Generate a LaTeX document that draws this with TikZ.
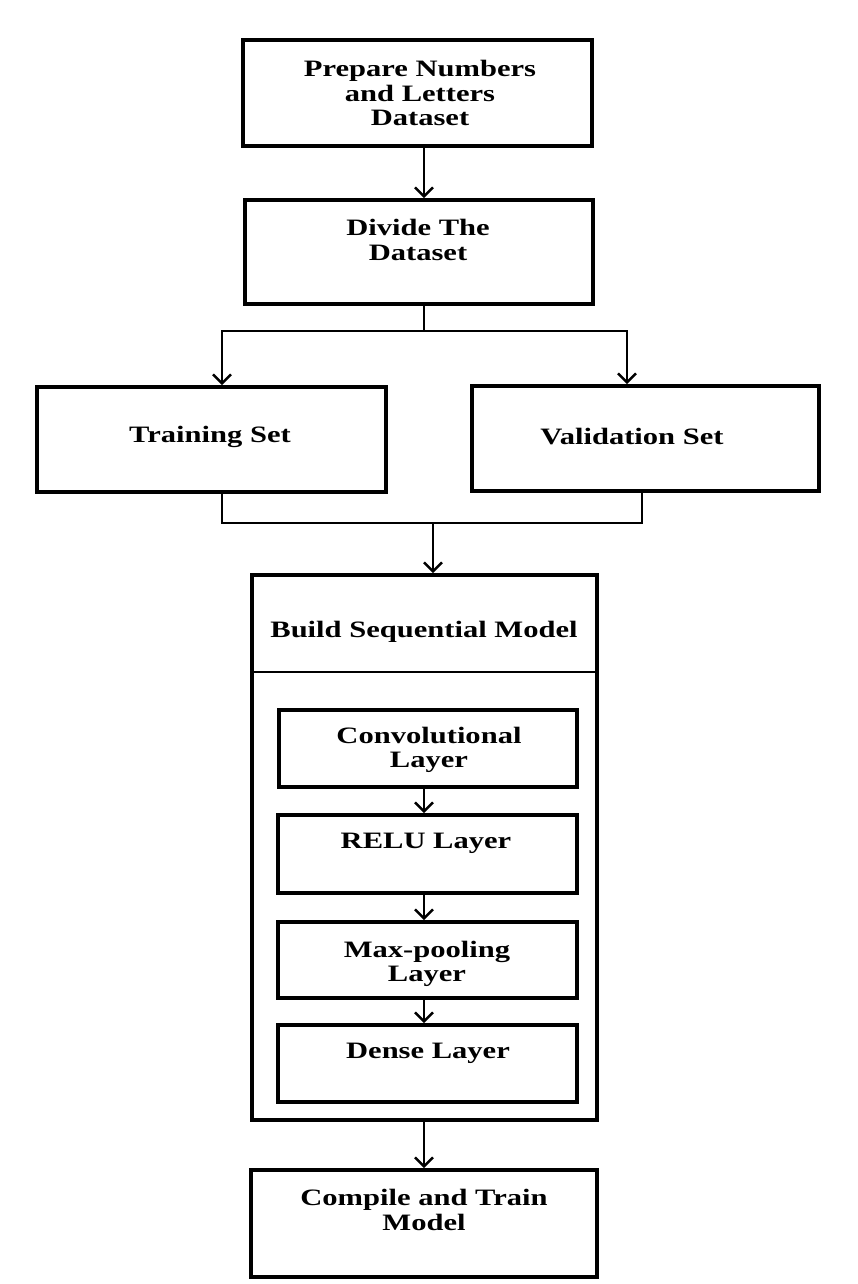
\documentclass[tikz,border=0pt]{standalone}
\usepackage{fontspec}
\setmainfont{Liberation Serif}[FakeStretch=1.3]
\usetikzlibrary{arrows.meta}
\begin{document}
\begin{tikzpicture}[x=1pt,y=-1pt,
  box/.style={draw,line width=3.6pt,inner sep=0pt},
  txt/.style={font=\fontsize{23.5}{24.5}\selectfont\bfseries,align=center,inner sep=0pt},
  con/.style={line width=2.5pt},
  arr/.style={con,-{Straight Barb[length=9pt,width=18pt,line width=2.5pt]}}]
\useasboundingbox (0,0) rectangle (857,1284);
\newcommand{\bx}[5]{\node[box,minimum width=#4-#2,minimum height=#5-#3] (#1) at ({(#2+#4)/2},{(#3+#5)/2}) {};}
\bx{prep}{243}{40}{592}{146}
\bx{div}{245}{200}{593}{304}
\bx{train}{37}{387}{386}{492}
\bx{val}{472}{386}{819}{491}
\bx{build}{252}{575}{597}{1120}
\bx{conv}{279}{710}{577}{787}
\bx{relu}{278}{815}{577}{893}
\bx{maxp}{278}{922}{577}{998}
\bx{dense}{278}{1025}{577}{1102}
\bx{comp}{251}{1170}{597}{1277}
\draw[line width=2.5pt] (252,672) -- (597,672);
\node[txt] (tprep) at (420,93) {Prepare Numbers\\and Letters\\Dataset};
\node[txt] (tdiv) at (418,240) {Divide The\\Dataset};
\node[txt] (ttrain) at (210,437) {Training Set};
\node[txt] (tval) at (632,437) {Validation Set};
\node[txt] (tbuild) at (424,632) {Build Sequential Model};
\node[txt] (tconv) at (429,750) {Convolutional\\Layer};
\node[txt] (trelu) at (426,843) {RELU Layer};
\node[txt] (tmax) at (427,964) {Max-pooling\\Layer};
\node[txt] (tdense) at (428,1053) {Dense Layer};
\node[txt] (tcomp) at (424,1210) {Compile and Train\\Model};
\coordinate (s1) at (424,331);
\coordinate (m1) at (433,523);
\draw[arr] (prep.south -| 424,0) -- (div.north -| 424,0);
\draw[con] (div.south -| 424,0) -- (s1);
\draw[arr] (s1) -| (train.north -| 222,0);
\draw[arr] (s1) -| (val.north -| 627,0);
\draw[con] (train.south -| 222,0) |- (m1);
\draw[con] (val.south -| 642,0) |- (m1);
\draw[arr] (m1) -- (build.north -| 433,0);
\draw[arr] (conv.south -| 424,0) -- (relu.north -| 424,0);
\draw[arr] (relu.south -| 424,0) -- (maxp.north -| 424,0);
\draw[arr] (maxp.south -| 424,0) -- (dense.north -| 424,0);
\draw[arr] (build.south -| 424,0) -- (comp.north -| 424,0);
\end{tikzpicture}
\end{document}
